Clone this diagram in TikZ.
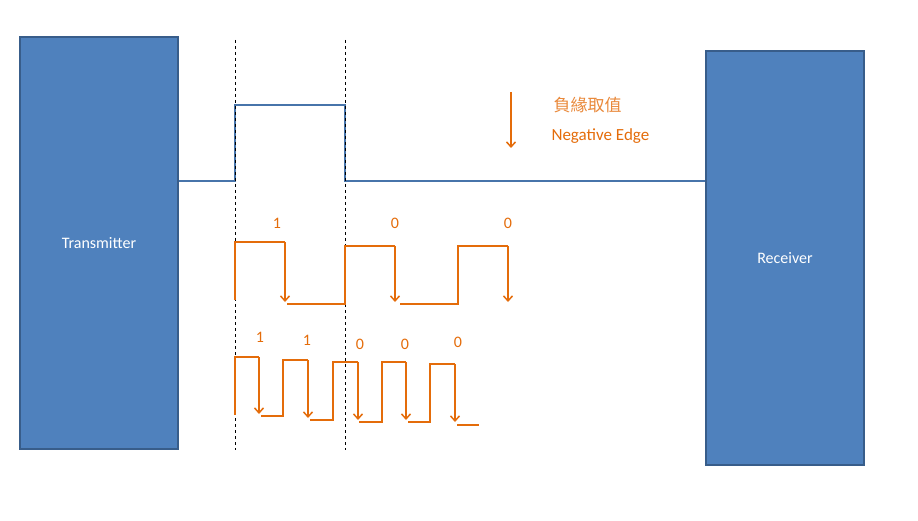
\documentclass[tikz,border=0pt]{standalone}
\usepackage{fontspec}
\setmainfont{Carlito}
\newfontfamily\cjk{Noto Sans CJK TC}
\usetikzlibrary{arrows.meta}
\definecolor{boxfill}{HTML}{4F81BD}
\definecolor{boxline}{HTML}{385D8A}
\definecolor{org}{HTML}{E46C0A}
\begin{document}
\begin{tikzpicture}[x=1pt,y=-1pt,
  blk/.style={draw=boxline,line width=1.5pt,fill=boxfill,text=white,font=\fontsize{16}{18}\selectfont},
  wave/.style={draw=org,line width=1.5pt},
  edge/.style={wave,-{Straight Barb[length=5pt,width=9pt]}},
  lbl/.style={text=org,font=\fontsize{16}{18}\selectfont},
  sig/.style={draw=boxfill!90!black,line width=2pt},
  guide/.style={draw=black,dashed,line width=0.5pt}]
\useasboundingbox (0,0) rectangle (918,521);
\node[blk,minimum width=158pt,minimum height=412pt] (tx) at (99,243) {Transmitter};
\node[blk,minimum width=158pt,minimum height=414pt] (rx) at (785,258) {Receiver};
\coordinate (s1) at (235,181); \coordinate (s2) at (345,181);
\draw[sig] (tx.east|-s1) -- (s1) -- (235,105) -- (345,105) -- (s2) -- (rx.west|-s2);
\draw[guide] (235,40) -- (235,450);
\draw[guide] (345,40) -- (345,450);
% row 1
\draw[wave] (235,300) -- (235,242) -- (285,242);
\draw[edge] (285,242) -- (285,302);
\draw[wave] (287,304) -- (345,304) -- (345,246) -- (395,246);
\draw[edge] (395,246) -- (395,302);
\draw[wave] (400,304) -- (458,304) -- (458,246) -- (508,246);
\draw[edge] (508,246) -- (508,302);
\node[lbl] (a1) at (277,223) {1};
\node[lbl] (a2) at (395,223) {0};
\node[lbl] (a3) at (508,223) {0};
% row 2
\draw[wave] (235,415) -- (235,357) -- (259,357);
\draw[edge] (259,357) -- (259,414);
\draw[wave] (261,416) -- (283,416) -- (283,360) -- (308,360);
\draw[edge] (308,360) -- (308,418);
\draw[wave] (310,420) -- (333,420) -- (333,362) -- (358,362);
\draw[edge] (358,362) -- (358,420);
\draw[wave] (359,422) -- (382,422) -- (382,362) -- (406,362);
\draw[edge] (406,362) -- (406,420);
\draw[wave] (408,422) -- (430,422) -- (430,364) -- (455,364);
\draw[edge] (455,364) -- (455,422);
\draw[wave] (457,425) -- (479,425);
\node[lbl] (b1) at (260,337) {1};
\node[lbl] (b2) at (307,340) {1};
\node[lbl] (b3) at (360,344) {0};
\node[lbl] (b4) at (405,344) {0};
\node[lbl] (b5) at (458,342) {0};
% legend
\draw[edge] (511,92) -- (511,148);
\node[lbl,anchor=west,font=\cjk\fontsize{17}{19}\selectfont,text=org!80] (zh) at (550,105) {負緣取值};
\node[lbl,anchor=west,font=\fontsize{17}{19}\selectfont] (en) at (548,136) {Negative Edge};
\end{tikzpicture}
\end{document}
